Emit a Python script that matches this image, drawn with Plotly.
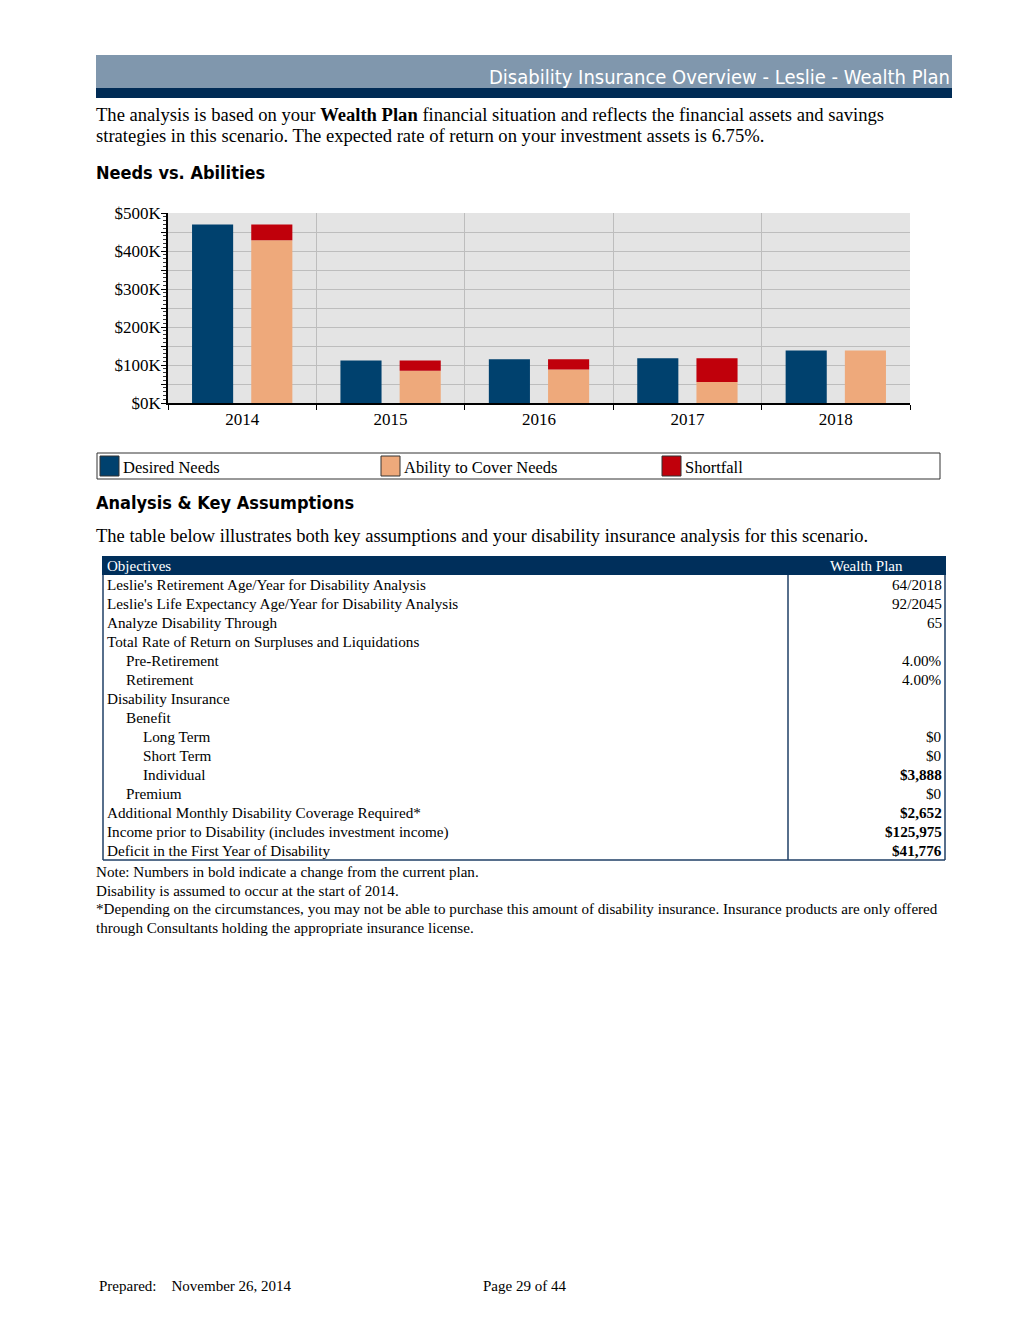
import plotly.graph_objects as go

# ---------------- data ----------------
years = ["2014", "2015", "2016", "2017", "2018"]
desired_needs = [470000, 112000, 115000, 118000, 138000]
ability_to_cover = [428000, 85000, 88000, 55000, 138000]
shortfall = [42000, 27000, 27000, 63000, 0]

y_tickvals = [0, 50000, 100000, 150000, 200000, 250000, 300000, 350000, 400000, 450000, 500000]
y_ticktext = ["$0K", "", "$100K", "", "$200K", "", "$300K", "", "$400K", "", "$500K"]

series_names = ["Desired Needs", "Ability to Cover Needs", "Shortfall"]

table_header = ["Objectives", "Wealth Plan"]
row_labels = [
    "Leslie's Retirement Age/Year for Disability Analysis",
    "Leslie's Life Expectancy Age/Year for Disability Analysis",
    "Analyze Disability Through",
    "Total Rate of Return on Surpluses and Liquidations",
    "Pre-Retirement",
    "Retirement",
    "Disability Insurance",
    "Benefit",
    "Long Term",
    "Short Term",
    "Individual",
    "Premium",
    "Additional Monthly Disability Coverage Required*",
    "Income prior to Disability (includes investment income)",
    "Deficit in the First Year of Disability",
]
row_levels = [0, 0, 0, 0, 1, 1, 0, 1, 2, 2, 2, 1, 0, 0, 0]
row_values = ["64/2018", "92/2045", "65", "", "4.00%", "4.00%", "", "", "$0", "$0",
              "$3,888", "$0", "$2,652", "$125,975", "$41,776"]
row_bold = [False] * 10 + [True, False, True, True, True]

notes = [
    "Note: Numbers in bold indicate a change from the current plan.",
    "Disability is assumed to occur at the start of 2014.",
    "*Depending on the circumstances, you may not be able to purchase this amount of disability insurance. Insurance products are only offered",
    "through Consultants holding the appropriate insurance license.",
]

# ---------------- styling ----------------
W, H = 1024, 1325
NAVY = "#00416e"
PEACH = "#eea97b"
RED = "#c0000b"
HEADER_DARK = "#002b55"
SERIF = "Liberation Serif, Times New Roman, serif"
COND = "DejaVu Sans Condensed, Liberation Sans Narrow, DejaVu Sans, sans-serif"


def px(x):
    return x / W


def py(y):
    return 1 - y / H


fig = go.Figure()

bar_w = 0.277
fig.add_trace(go.Bar(x=years, y=desired_needs, name=series_names[0], marker_color=NAVY,
                     width=bar_w, offset=-0.338, marker_line_width=0))
fig.add_trace(go.Bar(x=years, y=ability_to_cover, name=series_names[1], marker_color=PEACH,
                     width=bar_w, offset=0.061, marker_line_width=0))
fig.add_trace(go.Bar(x=years, y=shortfall, base=ability_to_cover, name=series_names[2],
                     marker_color=RED, width=bar_w, offset=0.061, marker_line_width=0))

shapes = []
ann = []


def rect(x0, y0, x1, y1, fill=None, line_color=None, lw=0):
    shapes.append(dict(type="rect", xref="paper", yref="paper", x0=px(x0), x1=px(x1),
                       y0=py(y1), y1=py(y0), fillcolor=fill if fill else "rgba(0,0,0,0)",
                       line=dict(color=line_color if line_color else "rgba(0,0,0,0)", width=lw),
                       layer="above"))


def line(x0, y0, x1, y1, color, lw=1):
    shapes.append(dict(type="line", xref="paper", yref="paper", x0=px(x0), x1=px(x1),
                       y0=py(y0), y1=py(y1), line=dict(color=color, width=lw), layer="above"))


def text(x, y, s, size, family=SERIF, color="black", xanchor="left"):
    ann.append(dict(x=px(x), y=py(y), xref="paper", yref="paper", text=s, showarrow=False,
                    xanchor=xanchor, yanchor="middle", font=dict(size=size, family=family, color=color),
                    borderpad=0))


# header band
rect(96, 55, 952, 88, fill="#8097ad")
rect(96, 88, 952, 98, fill=HEADER_DARK)
text(951, 77, "Disability Insurance Overview - Leslie - Wealth Plan", 20, COND, "white", "right")

# intro
text(95, 115, "The analysis is based on your <b>Wealth Plan</b> financial situation and reflects the financial assets and savings", 18.6)
text(95, 136, "strategies in this scenario. The expected rate of return on your investment assets is 6.75%.", 18.6)
text(95, 172, "<b>Needs vs. Abilities</b>", 18, COND)

# legend box
rect(97, 453, 940, 479, line_color="#333333", lw=1)
legend_x = [100, 381, 662]
legend_colors = [NAVY, PEACH, RED]
for lx, lc, nm in zip(legend_x, legend_colors, series_names):
    rect(lx, 456, lx + 19, 476, fill=lc, line_color="#333333", lw=1)
    text(lx + 22, 467, nm, 16.5)

text(95, 503, "<b>Analysis & Key Assumptions</b>", 18, COND)
text(95, 536, "The table below illustrates both key assumptions and your disability insurance analysis for this scenario.", 18.5)

# table
tbl_top, hdr_h, row_h = 556, 19, 19
tbl_left, col_div, tbl_right = 103, 788, 945
rect(tbl_left - 1, tbl_top, tbl_right + 1, tbl_top + hdr_h, fill="#002f5b")
text(106, tbl_top + hdr_h / 2 + 0.5, table_header[0], 15, SERIF, "white")
text((col_div + tbl_right) / 2, tbl_top + hdr_h / 2 + 0.5, table_header[1], 15, SERIF, "white", "center")
body_top = tbl_top + hdr_h
body_bot = body_top + row_h * len(row_labels)
line(tbl_left, body_top, tbl_left, body_bot, "#1f3f66", 1.5)
line(col_div, body_top, col_div, body_bot, "#1f3f66", 1.5)
line(tbl_right, body_top, tbl_right, body_bot, "#1f3f66", 1.5)
line(tbl_left, body_bot, tbl_right, body_bot, "#1f3f66", 1.5)
indent_px = [106, 125, 142]
for i, (lab, lev, val, b) in enumerate(zip(row_labels, row_levels, row_values, row_bold)):
    cy = body_top + row_h * i + row_h / 2
    text(indent_px[lev], cy, lab, 15.2)
    if val:
        text(943, cy, f"<b>{val}</b>" if b else val, 15.2, SERIF, "black", "right")

for i, n in enumerate(notes):
    text(95, 872 + i * 18.7, n, 15.1)

text(98, 1286, "Prepared:&nbsp;&nbsp;&nbsp;&nbsp;November 26, 2014", 15)
text(482, 1286, "Page 29 of 44", 15)

fig.update_layout(
    template="none",
    width=W, height=H, margin=dict(l=0, r=0, t=0, b=0, pad=0, autoexpand=False),
    paper_bgcolor="white", plot_bgcolor="#e4e4e4",
    showlegend=False, barmode="overlay",
    shapes=shapes, annotations=ann,
    xaxis=dict(domain=[px(168), px(910)], range=[-0.5, 4.5], type="category",
               automargin=False,
               tickson="boundaries", showgrid=True, gridcolor="#bdbdbd", gridwidth=1,
               showline=True, linecolor="black", linewidth=1.5, ticks="outside",
               ticklen=5, tickcolor="black", tickfont=dict(family=SERIF, size=17, color="black"),
               fixedrange=True),
    yaxis=dict(domain=[py(403), py(213)], range=[0, 500000], tickvals=y_tickvals,
               automargin=False,
               ticktext=y_ticktext, showgrid=True, gridcolor="#bdbdbd", gridwidth=1,
               showline=True, linecolor="black", linewidth=1.5, ticks="outside",
               ticklen=5, tickcolor="black", zeroline=False, ticklabelstandoff=-3,
               tickfont=dict(family=SERIF, size=17, color="black"),
               minor=dict(dtick=10000, ticks="outside", ticklen=3, tickcolor="#333333", showgrid=False),
               fixedrange=True),
)

fig.write_html("out.html", config={"displayModeBar": False},
               post_script="document.body.style.margin='0';")
